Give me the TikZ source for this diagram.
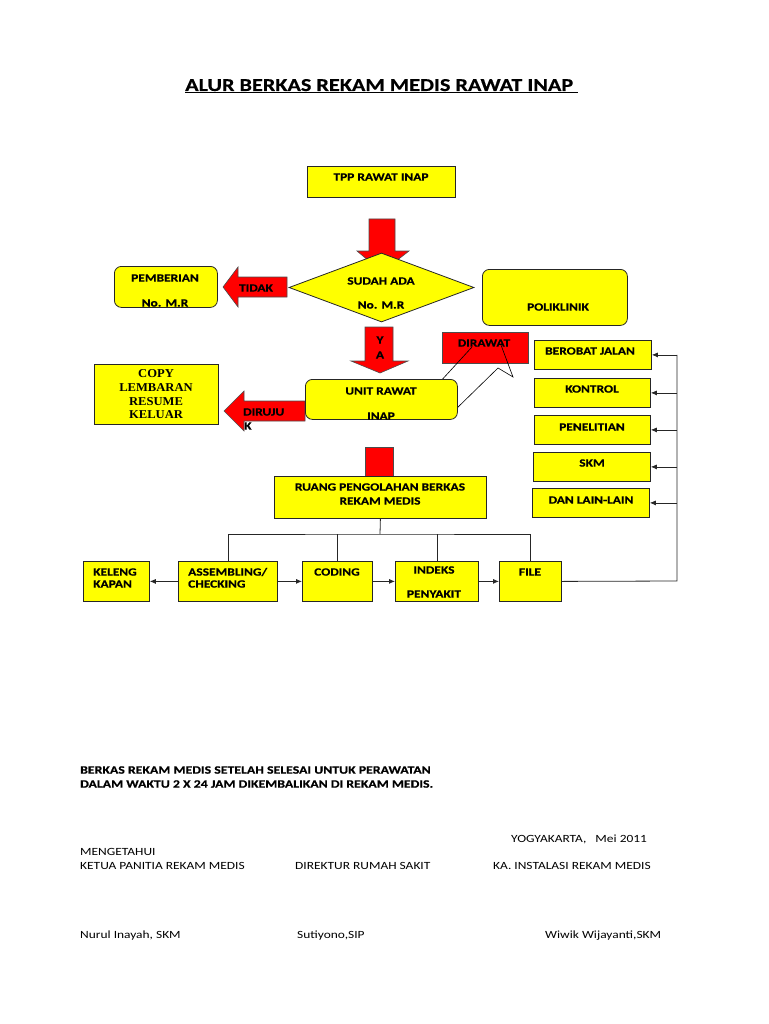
\documentclass[tikz,border=0pt]{standalone}
\usepackage{fontspec}
\setmainfont{Carlito}[FakeStretch=1.22, BoldFeatures={FakeBold=0.5}]
\newfontfamily\copyfont{Liberation Serif}[FakeStretch=1.05]
\usetikzlibrary{arrows.meta,shapes.geometric}
\definecolor{ylw}{RGB}{255,255,0}
\definecolor{rd}{RGB}{255,0,0}
\begin{document}
\begin{tikzpicture}[x=1pt,y=-1pt,
  box/.style={draw=black!85, fill=ylw, line width=0.8pt, inner sep=0pt, anchor=north west},
  rbox/.style={box, rounded corners=7pt},
  redbox/.style={draw=black!70, fill=rd, line width=0.6pt, inner sep=0pt, anchor=north west},
  lbl/.style={font=\fontsize{11}{13}\selectfont\bfseries, inner sep=0pt},
  lblw/.style={lbl, anchor=west},
  cpy/.style={font=\copyfont\fontsize{12}{14}\selectfont\bfseries, inner sep=0pt},
  blk/.style={fill=rd, draw=black!70, line width=0.6pt},
  con/.style={draw=black!85, line width=0.8pt},
  arr/.style={con, -{Latex[length=6pt,width=5pt]}},
  footb/.style={font=\fontsize{11.3}{13}\selectfont\bfseries, inner sep=0pt, anchor=west},
  foot/.style={font=\fontsize{11}{13}\selectfont, inner sep=0pt, anchor=base west},
]
\useasboundingbox (0,0) rectangle (768,1024);

% title
\node[font=\fontsize{18.2}{22}\selectfont\bfseries, inner sep=0pt, anchor=base west] (title) at (185,91)
  {\underline{ALUR BERKAS REKAM MEDIS RAWAT INAP\ }};

% block arrows (drawn under the boxes)
\fill[blk] (369,219) -- (395,219) -- (395,251) -- (409,251) -- (382,272) -- (357,251) -- (369,251) -- cycle;
\fill[blk] (287,277) -- (238,277) -- (238,267) -- (223,287) -- (238,307) -- (238,297) -- (287,297) -- cycle;
\fill[blk] (365,327) -- (393,327) -- (393,361) -- (408,361) -- (380,373) -- (351,361) -- (365,361) -- cycle;
\fill[blk] (305,401) -- (244,401) -- (244,391) -- (224,411) -- (244,431) -- (244,421) -- (305,421) -- cycle;
\fill[blk] (365,447) rectangle (393,478);

% top
\node[box, minimum width=148pt, minimum height=31pt] (tpp) at (307,166) {};
\node[lbl] (tpplbl) at (381,177) {TPP RAWAT INAP};

\node[diamond, draw=black!85, fill=ylw, line width=0.8pt, inner sep=0pt,
      minimum width=185pt, minimum height=69pt, aspect=2.68] (sudah) at (381.5,287.5) {};
\node[lbl] (sudah1) at (381,281) {SUDAH ADA};
\node[lbl] (sudah2) at (381,305) {No. M.R};

\node[lbl] (tidak) at (256,288) {TIDAK};

\node[rbox, minimum width=103pt, minimum height=41pt] (pemb) at (114,266) {};
\node[lbl] (pemb1) at (165,278) {PEMBERIAN};
\node[lbl] (pemb2) at (165,303) {No. M.R};

\node[rbox, minimum width=145pt, minimum height=56pt] (poli) at (482,269) {};
\node[lbl] (polilbl) at (558,307) {POLIKLINIK};

\node[lbl] (ya1) at (380,340) {Y};
\node[lbl] (ya2) at (380,355) {A};

% dirawat callout
\node[redbox, minimum width=86pt, minimum height=31pt] (dirawat) at (442,332) {};
\node[lbl] (dirawatlbl) at (484,343) {DIRAWAT};
\draw[black, line width=0.6pt] (439,383) -- (472,347);
\draw[black, line width=0.6pt] (501,345) -- (513,377) -- (498,368) -- (454,411);

\node[rbox, minimum width=152pt, minimum height=40pt] (unit) at (305,379) {};
\node[lbl] (unit1) at (381,391) {UNIT RAWAT};
\node[lbl] (unit2) at (381,416) {INAP};

\node[lblw] (diruj1) at (243,412) {DIRUJU};
\node[lblw] (diruj2) at (244,426) {K};

\node[box, minimum width=124pt, minimum height=60pt] (copy) at (94,364) {};
\node[cpy] (copy1) at (156,374) {COPY};
\node[cpy] (copy2) at (156,388) {LEMBARAN};
\node[cpy] (copy3) at (156,402) {RESUME};
\node[cpy] (copy4) at (156,415) {KELUAR};

\node[box, minimum width=212pt, minimum height=42pt] (ruang) at (274,476) {};
\node[lbl] (ruang1) at (380,487) {RUANG PENGOLAHAN BERKAS};
\node[lbl] (ruang2) at (380,501) {REKAM MEDIS};

% right column
\node[box, minimum width=117pt, minimum height=29pt] (ber) at (534,340) {};
\node[lbl] (berl) at (590,351) {BEROBAT JALAN};
\node[box, minimum width=116pt, minimum height=29pt] (kon) at (534,378) {};
\node[lbl] (konl) at (592,389) {KONTROL};
\node[box, minimum width=116pt, minimum height=29pt] (pen) at (534,415) {};
\node[lbl] (penl) at (592,427) {PENELITIAN};
\node[box, minimum width=117pt, minimum height=29pt] (skm) at (533,452) {};
\node[lbl] (skml) at (592,463) {SKM};
\node[box, minimum width=117pt, minimum height=29pt] (dll) at (532,488) {};
\node[lbl] (dlll) at (591,500) {DAN LAIN-LAIN};

% bottom row
\node[box, minimum width=66pt, minimum height=40pt] (kel) at (83,561) {};
\node[lblw] (kel1) at (93,572) {KELENG};
\node[lblw] (kel2) at (93,584) {KAPAN};
\node[box, minimum width=99pt, minimum height=40pt] (ass) at (178,561) {};
\node[lblw] (ass1) at (188,572) {ASSEMBLING/};
\node[lblw] (ass2) at (188,584) {CHECKING};
\node[box, minimum width=70pt, minimum height=40pt] (cod) at (302,561) {};
\node[lbl] (codl) at (337,572) {CODING};
\node[box, minimum width=83pt, minimum height=40pt] (ind) at (395,561) {};
\node[lbl] (ind1) at (434,570) {INDEKS};
\node[lbl] (ind2) at (434,594) {PENYAKIT};
\node[box, minimum width=62pt, minimum height=40pt] (file) at (499,561) {};
\node[lbl] (filel) at (530,572) {FILE};

% connectors
\coordinate (split) at (380,534);
\draw[con] (ruang.south) -- (split);
\draw[con] (ass.north) |- (split) -| (file.north);
\draw[con] (cod.north) -- (cod.north |- split);
\draw[con] (ind.north) -- (ind.north |- split);
\draw[arr] (ass.west) -- (kel.east);
\draw[arr] (ass.east) -- (cod.west);
\draw[arr] (cod.east) -- (ind.west);
\draw[arr] (ind.east) -- (file.west);
\coordinate (rt) at (677,581);
\draw[con] (file.east) -- (rt) -- (rt |- ber.east);
\draw[arr] (rt |- ber.east) -- (ber.east);
\draw[arr] (rt |- kon.east) -- (kon.east);
\draw[arr] (rt |- pen.east) -- (pen.east);
\draw[arr] (rt |- skm.east) -- (skm.east);
\draw[arr] (rt |- dll.east) -- (dll.east);

% footer
\node[footb] (n1) at (80,770) {BERKAS REKAM MEDIS SETELAH SELESAI UNTUK PERAWATAN};
\node[footb] (n2) at (80,784) {DALAM WAKTU 2 X 24 JAM DIKEMBALIKAN DI REKAM MEDIS.};
\node[foot] (yog) at (511,842) {YOGYAKARTA,\ \ \ Mei 2011};
\node[foot] (meng) at (80,855) {MENGETAHUI};
\node[foot] (s1) at (80,869) {KETUA PANITIA REKAM MEDIS};
\node[foot] (s2) at (295,869) {DIREKTUR RUMAH SAKIT};
\node[foot] (s3) at (493,869) {KA. INSTALASI REKAM MEDIS};
\node[foot] (m1) at (80,938) {Nurul Inayah, SKM};
\node[foot] (m2) at (297,938) {Sutiyono,SIP};
\node[foot] (m3) at (545,938) {Wiwik Wijayanti,SKM};
\end{tikzpicture}
\end{document}
